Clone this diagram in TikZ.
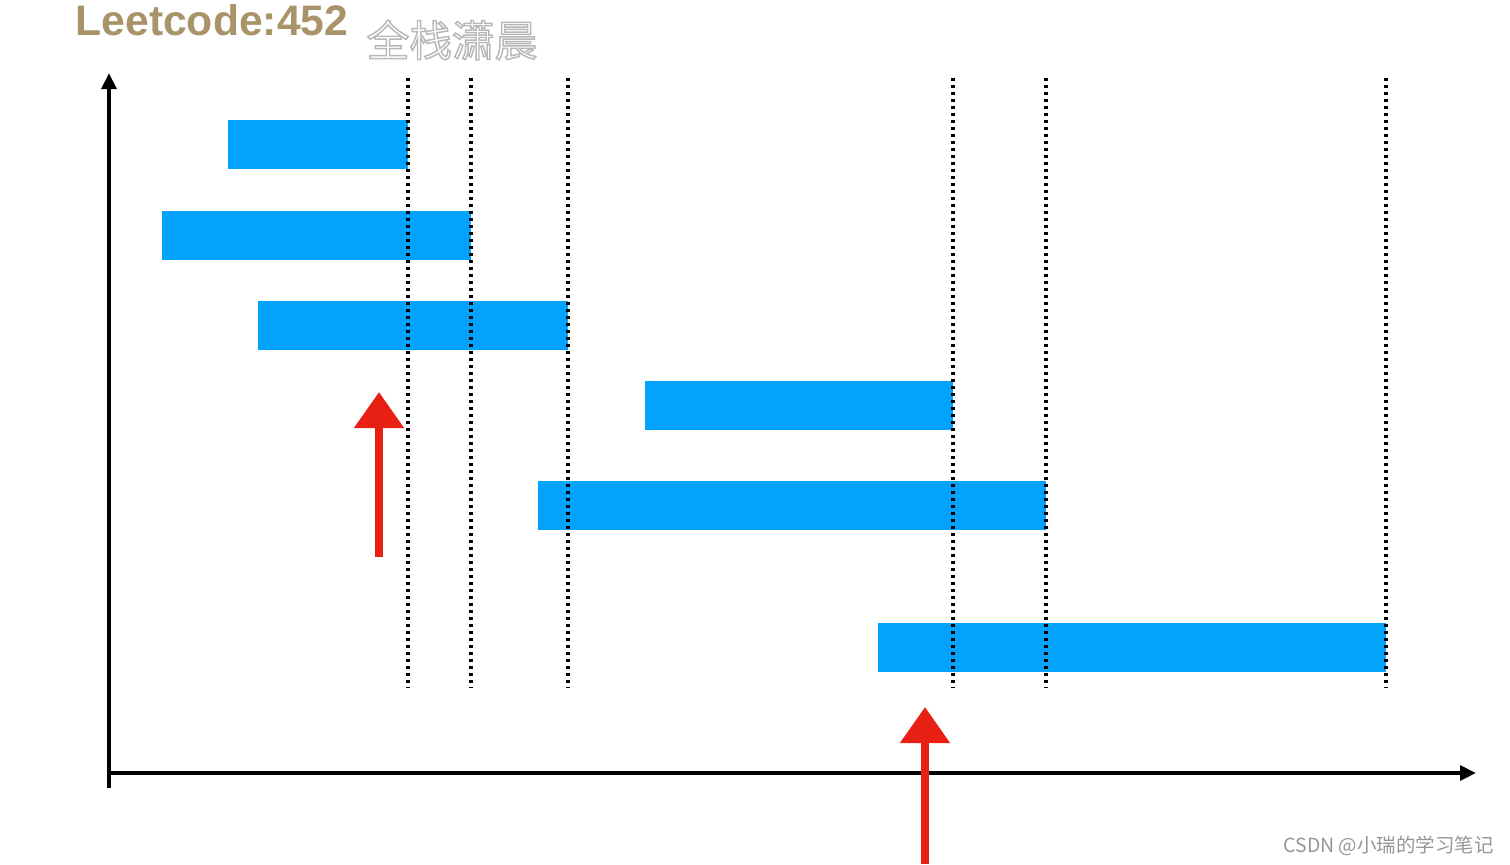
\documentclass[tikz,border=0pt]{standalone}
\usepackage{fontspec}
\setmainfont{Liberation Sans}
\newfontfamily\cjk{Noto Sans CJK SC}
\usetikzlibrary{arrows.meta}

\definecolor{barblue}{RGB}{3,162,252}
\definecolor{titlegold}{RGB}{168,148,104}
\definecolor{penred}{RGB}{232,32,20}
\definecolor{markgray}{RGB}{150,150,150}

\tikzset{every picture/.style={line width=0.75pt}}
\tikzset{
  interval/.style={fill=barblue, draw=none},
  endline/.style={line width=2.7pt, dash pattern=on 2.6pt off 2.65pt},
  axis/.style={line width=2.8pt, -{Triangle[width=11pt,length=12pt]}},
  pointer/.style={penred, line width=6pt, -{Triangle[width=36pt,length=27pt]}},
}

\begin{document}
\begin{tikzpicture}[x=0.75pt,y=0.75pt,yscale=-1,xscale=1]
	\useasboundingbox (0,0) rectangle (1510,864);

	%Shape: Intervals (left/top/right)
	\foreach \l/\t/\r in {228/120/408, 162/211/471, 258/301/568, 645/381/953, 538/481/1046, 878/623/1386}
		\fill[interval] (\l,\t) rectangle (\r,\t+49);

	%Dotted Lines at the interval ends
	\foreach \x in {408,471,568,953,1046,1386}
		\draw[endline] (\x,78) -- (\x,688);

	%Shape: Axis 2D
	\coordinate (origin) at (109,788);
	\coordinate (ytip) at (109,73);
	\coordinate (xstart) at (108,773);
	\coordinate (xtip) at (1476,773);
	\draw[axis] (origin) -- (ytip);
	\draw[axis] (xstart) -- (xtip);

	%Red pointers
	\coordinate (arrowAfoot) at (379,557);
	\coordinate (arrowAtip) at (379,392);
	\coordinate (arrowBfoot) at (925,864);
	\coordinate (arrowBtip) at (925,707);
	\draw[pointer] (arrowAfoot) -- (arrowAtip);
	\draw[pointer] (arrowBfoot) -- (arrowBtip);

	% Text Node
	\node[anchor=base west, inner sep=0pt, text=titlegold, font=\bfseries\fontsize{32}{36}\selectfont] (title) at (75,35.5) {Leetcode:452};
	% Text Node
	\node[anchor=base east, inner sep=0pt, text=markgray, font=\cjk\fontsize{14.6}{18}\selectfont] (credit) at (1494,852) {CSDN @小瑞的学习笔记};
	% Text Node
	\node[inner sep=0pt, text=white, font=\cjk\fontsize{32}{36}\selectfont] (watermark) at (452,40)
		{\special{pdf:literal q 2 Tr 1.1 w 0.72 0.72 0.72 RG}全栈潇晨\special{pdf:literal 0 Tr Q}};

\end{tikzpicture}
\end{document}
